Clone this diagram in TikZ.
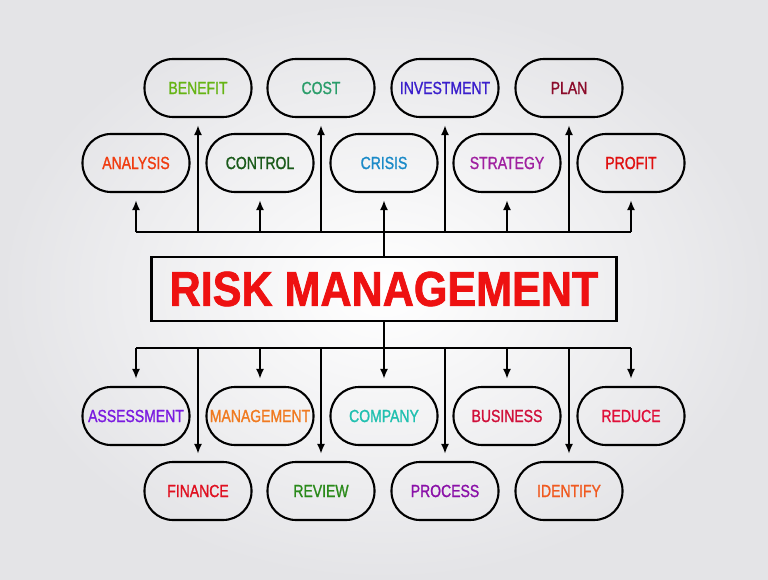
\documentclass[tikz,border=0pt]{standalone}
\usepackage{fontspec}
\setmainfont{Liberation Sans}
\newfontfamily\lblfont[FakeStretch=0.8,FakeBold=1.2]{Liberation Sans}
\newfontfamily\ttlfont[FakeStretch=0.88,FakeBold=1.5]{Liberation Sans Bold}
\usetikzlibrary{arrows.meta}
\definecolor{cBenefit}{HTML}{66B414}
\definecolor{cCost}{HTML}{2A9D6A}
\definecolor{cInvest}{HTML}{3A1FCC}
\definecolor{cPlan}{HTML}{8B0A2A}
\definecolor{cAnalysis}{HTML}{F03C10}
\definecolor{cControl}{HTML}{1A5A1A}
\definecolor{cCrisis}{HTML}{1A8AC8}
\definecolor{cStrategy}{HTML}{A020A0}
\definecolor{cProfit}{HTML}{E01010}
\definecolor{cAssess}{HTML}{7A1AE0}
\definecolor{cManage}{HTML}{F07A20}
\definecolor{cCompany}{HTML}{20C0B0}
\definecolor{cBusiness}{HTML}{D0103A}
\definecolor{cReduce}{HTML}{E0103A}
\definecolor{cFinance}{HTML}{E01020}
\definecolor{cReview}{HTML}{2A8A1A}
\definecolor{cProcess}{HTML}{8A10A8}
\definecolor{cIdentify}{HTML}{F05A20}
\definecolor{cTitle}{HTML}{EE1111}
\definecolor{bgEdge}{HTML}{E4E4E7}
\begin{document}
\begin{tikzpicture}[x=1pt,y=-1pt,
  box/.style={draw, line width=2.1pt, rounded corners=28.5pt, minimum width=107pt,
    minimum height=58pt, inner sep=0pt, font=\lblfont\fontsize{17.5}{20}\selectfont},
  arr/.style={line width=2.1pt, -{Latex[length=10pt,width=8pt]}, shorten >=7pt},
  bus/.style={line width=2.1pt}]
\useasboundingbox (0,0) rectangle (768,580);
\shade[inner color=white, outer color=bgEdge] (0,0) rectangle (768,580);
% top rows
\node[box, text=cBenefit] (benefit) at (198,88) {BENEFIT};
\node[box, text=cCost] (cost) at (321,88) {COST};
\node[box, text=cInvest] (investment) at (445,88) {INVESTMENT};
\node[box, text=cPlan] (plan) at (569,88) {PLAN};
\node[box, text=cAnalysis] (analysis) at (136,163) {ANALYSIS};
\node[box, text=cControl] (control) at (260,163) {CONTROL};
\node[box, text=cCrisis] (crisis) at (384,163) {CRISIS};
\node[box, text=cStrategy] (strategy) at (507,163) {STRATEGY};
\node[box, text=cProfit] (profit) at (631,163) {PROFIT};
% bottom rows
\node[box, text=cAssess] (assessment) at (136,416) {ASSESSMENT};
\node[box, text=cManage] (management) at (260,416) {MANAGEMENT};
\node[box, text=cCompany] (company) at (384,416) {COMPANY};
\node[box, text=cBusiness] (business) at (507,416) {BUSINESS};
\node[box, text=cReduce] (reduce) at (631,416) {REDUCE};
\node[box, text=cFinance] (finance) at (198,491) {FINANCE};
\node[box, text=cReview] (review) at (321,491) {REVIEW};
\node[box, text=cProcess] (process) at (445,491) {PROCESS};
\node[box, text=cIdentify] (identify) at (569,491) {IDENTIFY};
% title
\node[draw, line width=2.1pt, minimum width=465pt, minimum height=64pt, inner sep=0pt,
  text=cTitle, font=\ttlfont\fontsize{49}{55}\selectfont] (title) at (384,289) {RISK MANAGEMENT};
% buses
\coordinate (tb) at (0,232);
\coordinate (bb) at (0,348);
\draw[bus] (analysis.south |- tb) -- (profit.south |- tb);
\foreach \n in {analysis,benefit,control,cost,investment,strategy,plan,profit}
  \draw[arr] (\n.south |- tb) -- (\n.south);
\draw[arr] (title.north) -- (crisis.south);
\draw[bus] (assessment.north |- bb) -- (reduce.north |- bb);
\foreach \n in {assessment,finance,management,review,process,business,identify,reduce}
  \draw[arr] (\n.north |- bb) -- (\n.north);
\draw[arr] (title.south) -- (company.north);
\end{tikzpicture}
\end{document}
